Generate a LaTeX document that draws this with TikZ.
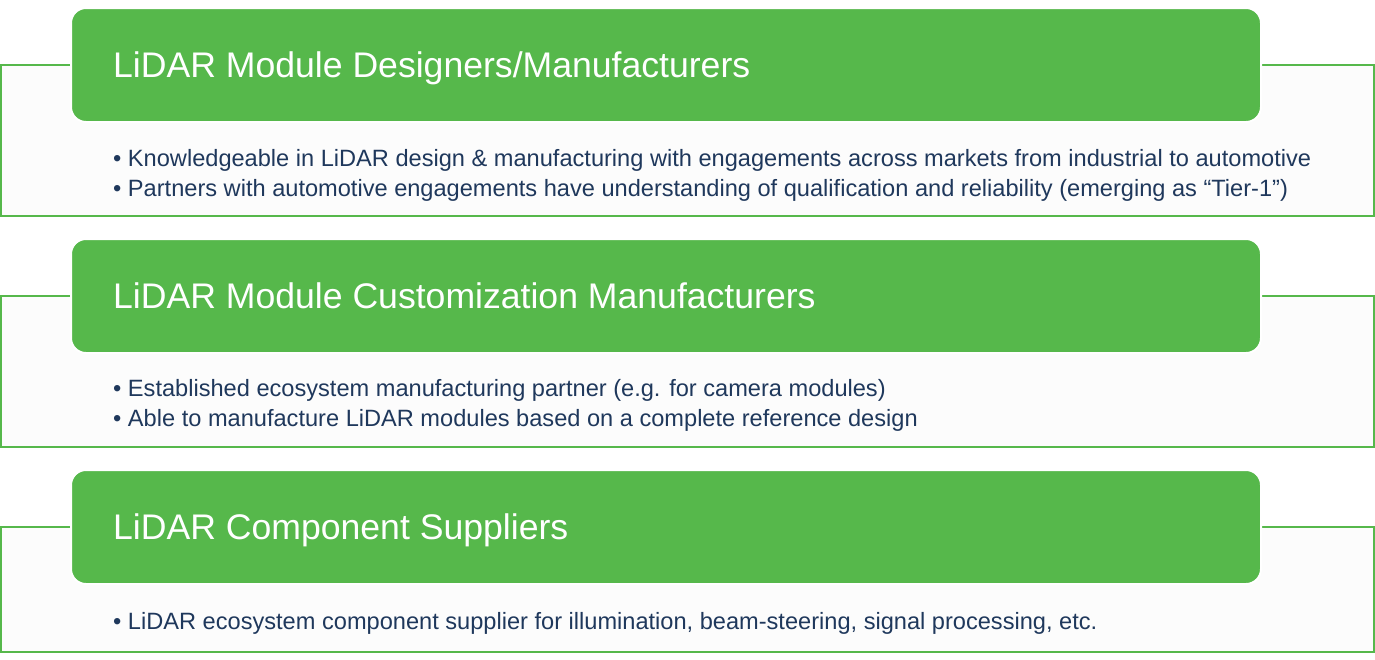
\documentclass[tikz,border=0pt]{standalone}
\usepackage{fontspec}
\setmainfont{Liberation Sans}
\definecolor{gg}{RGB}{86, 184, 75}
\definecolor{nn}{RGB}{31, 56, 92}
\definecolor{pp}{RGB}{252, 252, 252}

\begin{document}
\begin{tikzpicture}[x=1pt, y=1pt,
panel/.style={draw=gg, line width=1.5pt, fill=pp},
head/.style={rectangle, rounded corners=15pt, fill=gg, draw=white, line width=2pt, minimum width=1190pt, minimum height=114pt, inner sep=0pt},
title/.style={anchor=base west, text=white, font=\fontsize{35.6}{40}\selectfont, inner sep=0pt},
body/.style={anchor=west, align=left, text=nn, font=\fontsize{23.6}{30}\selectfont, inner sep=0pt}]
\useasboundingbox (0,0) rectangle (1375,-659);
\draw [panel] (1,-65) rectangle (1374,-216);
\draw [panel] (1,-296) rectangle (1374,-447);
\draw [panel] (1,-527) rectangle (1374,-652);
\node (head1) [head] at (666,-65) {};
\node (head2) [head] at (666,-296) {};
\node (head3) [head] at (666,-527) {};
\node (title1) [title] at (113,-77) {LiDAR Module Designers/Manufacturers};
\node (title2) [title] at (113,-308) {LiDAR Module Customization Manufacturers};
\node (title3) [title] at (113,-539) {LiDAR Component Suppliers};
\node (body1) [body] at (113,-175) {\textbullet\ Knowledgeable in LiDAR design \& manufacturing with engagements across markets from industrial to automotive\\\textbullet\ Partners with automotive engagements have understanding of qualification and reliability (emerging as “Tier-1”)};
\node (body2) [body] at (113,-405) {\textbullet\ Established ecosystem manufacturing partner (e.g. for camera modules)\\\textbullet\ Able to manufacture LiDAR modules based on a complete reference design};
\node (body3) [body] at (113,-623) {\textbullet\ LiDAR ecosystem component supplier for illumination, beam-steering, signal processing, etc.};
\end{tikzpicture}
\end{document}
